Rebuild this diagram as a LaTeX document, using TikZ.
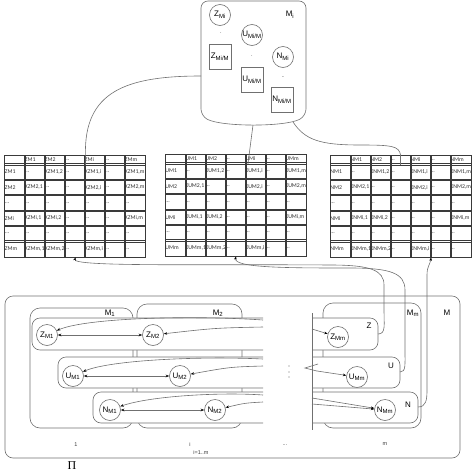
\documentclass[tikz,border=0pt]{standalone}
\usepackage{fontspec}
\setmainfont{Liberation Sans}
\newfontfamily\tabfont{Carlito}
\newfontfamily\pefont{Liberation Serif}
\usetikzlibrary{matrix,arrows.meta,positioning}
\definecolor{my_gray}{HTML}{707070}
\definecolor{my_dark}{HTML}{3A3A3A}
\tikzset{
  etat/.style={circle,draw=my_gray,fill=white,minimum size=21pt,inner sep=0pt,font=\fontsize{8}{9}\selectfont},
  boite/.style={rectangle,draw=my_gray,fill=white,minimum width=22pt,minimum height=25pt,inner sep=0pt,font=\fontsize{8}{9}\selectfont},
  fleche/.style={draw=my_gray,-{Stealth[length=3.5pt,width=2.6pt,color=black]}},
  double_fleche/.style={draw=my_gray,{Stealth[length=3.5pt,width=2.6pt,color=black]}-{Stealth[length=3.5pt,width=2.6pt,color=black]}},
  corde/.style={draw=my_gray},
  etiquette/.style={inner sep=0pt,font=\fontsize{8}{9}\selectfont},
  petit/.style={inner sep=0pt,text=my_dark,font=\fontsize{5.5}{6}\selectfont},
  tableau/.style={matrix of nodes,matrix anchor=north west,ampersand replacement=\&,
    row sep=-1.8pt,column sep=-1.8pt,nodes in empty cells,
    nodes={anchor=center,draw=my_dark,line width=0.6pt,outer sep=0pt,minimum width=21.2pt,minimum height=16.6pt,
      text width=20.4pt,align=left,inner sep=0.4pt,text=black!80,
      font=\tabfont\fontsize{5.8}{6.2}\selectfont},
    row 1/.style={nodes={minimum height=10pt}}}
}
% tableau des coefficients : nom, position, lettre
\newcommand\grille[3]{%
\matrix (#1) at (#2) [tableau] {
  \& #3M1 \& #3M2 \& ... \& #3Mi \& ... \& #3Mm \\
#3M1 \& ... \& K#3M1,2 \& ... \& K#3M1,i \& ... \& K#3M1,m \\
#3M2 \& K#3M2,1 \& ... \& ... \& K#3M2,i \& ... \& K#3M2,m \\
... \& ... \& ... \& ... \& ... \& ... \& ... \\
#3Mi \& K#3Mi,1 \& K#3Mi,2 \& ... \& ... \& ... \& K#3Mi,m \\
... \& ... \& ... \& ... \& ... \& ... \& ... \\
#3Mm \& K#3Mm,1 \& K#3Mm,2 \& ... \& K#3Mm,i \& ... \& ... \\
};}
\begin{document}
\begin{tikzpicture}[x=1pt,y=-1pt,line width=0.6pt]
\useasboundingbox (0,0) rectangle (474,474);

%le conteneur M_i en haut
\draw[my_gray,rounded corners=7] (250,1) -- (306,1) -- (306,116) .. controls (285,127) and (222,127) .. (201,116) -- (201,1) -- cycle;
\node[etat] (z_mi) at (220,15) {Z\textsubscript{Mi}};
\node[etat] (u_mi) at (252,35) {U\textsubscript{Mi/M}};
\node[etat] (n_mi) at (283,57) {N\textsubscript{Mi}};
\node[boite] (z_mim) at (220,57) {Z\textsubscript{Mi/M}};
\node[boite] (u_mim) at (252,80) {U\textsubscript{Mi/M}};
\node[boite] (n_mim) at (282,100) {N\textsubscript{Mi/M}};
\node[etiquette] (m_i) at (290,15) {M\textsubscript{i}};
\node[petit] (p_z) at (221,33) {.};
\node[petit] (p_u) at (252,56) {.};
\node[petit] (p_n) at (283,78) {-};
\coordinate (mi_g) at (201,76);
\coordinate (mi_b) at (253,125);
\coordinate (mi_d) at (293,122);

%les trois tableaux
\grille{tab_z}{0.5,151}{Z}
\grille{tab_u}{161,150}{U}
\grille{tab_n}{326,151}{N}

%liens du conteneur vers les tableaux
\draw[corde] (mi_g) .. controls (125,76) and (84,92) .. ([xshift=1pt]tab_z-1-5.north west) -- ([xshift=1pt]tab_z-1-5.south west);
\draw[corde] (mi_b) -- ([xshift=3pt]tab_u-1-5.south west);
\draw[corde] (mi_d) .. controls (305,140) and (320,145) .. (360,145) .. controls (392,145) and (399,146) .. (tab_n-1-4.north) -- (tab_n-1-4.south);

%le grand cadre M
\draw[my_gray,rounded corners=8] (5,296) rectangle (460,458);
\node[etiquette] (m) at (447,313) {M};

%les conteneurs M_1, M_2, M_m
\draw[my_gray,rounded corners=10] (30,308) rectangle (133,428);
\draw[my_gray,rounded corners=10] (137,304) rectangle (242,428);
\draw[my_gray,rounded corners=10] (323,303) rectangle (421,428);
\node[etiquette] (m_1) at (110,313) {M\textsubscript{1}};
\node[etiquette] (m_2) at (218,313) {M\textsubscript{2}};
\node[etiquette] (m_m) at (413,313) {M\textsubscript{m}};

%les lignes Z, U, N (coupees au milieu)
\foreach \g/\h/\d/\b in {32/318/378/350,58/357/400/388,93/392/418/423}{
  \fill[white,rounded corners=8] (\g,\h) rectangle (\d,\b);
  \draw[my_gray,rounded corners=8] (263,\h) -- (\g,\h) -- (\g,\b) -- (263,\b);
  \draw[my_gray,rounded corners=8] (312,\h) -- (\d,\h) -- (\d,\b) -- (312,\b);
}
\node[etiquette] (l_z) at (369,326) {Z};
\node[etiquette] (l_u) at (391,366) {U};
\node[etiquette] (l_n) at (408,405) {N};
\coordinate (ligne_z) at (378,334);
\coordinate (ligne_u) at (400,372);
\coordinate (ligne_n) at (418,407);

%les etats
\node[etat] (z_m1) at (47,335) {Z\textsubscript{M1}};
\node[etat] (z_m2) at (153,335) {Z\textsubscript{M2}};
\node[etat] (z_mm) at (338,337) {Z\textsubscript{Mm}};
\node[etat] (u_m1) at (73,376) {U\textsubscript{M1}};
\node[etat] (u_m2) at (180,376) {U\textsubscript{M2}};
\node[etat] (u_mm) at (357,377) {U\textsubscript{Mm}};
\node[etat] (n_m1) at (110,410) {N\textsubscript{M1}};
\node[etat] (n_m2) at (215,410) {N\textsubscript{M2}};
\node[etat] (n_mm) at (385,410) {N\textsubscript{Mm}};

%bouts des fleches dans la coupure
\coordinate (gz1) at (263,320);
\coordinate (gz2) at (263,327);
\coordinate (gu1) at (263,359);
\coordinate (gu2) at (263,366);
\coordinate (gn1) at (263,395);
\coordinate (gn2) at (263,402);
\coordinate (dz) at (312,329);
\coordinate (zz) at (317,371);
\coordinate (dn1) at (312,398);
\coordinate (dn2) at (312,404);

\draw[fleche] (gz1) .. controls (190,315) and (85,318) .. (z_m1);
\draw[fleche] (gz2) .. controls (215,328) .. (z_m2);
\draw[double_fleche] (z_m1) -- (z_m2);
\draw[fleche] (gu1) .. controls (200,356) and (110,360) .. (u_m1);
\draw[fleche] (gu2) .. controls (230,367) .. (u_m2);
\draw[double_fleche] (u_m1) -- (u_m2);
\draw[fleche] (gn1) .. controls (220,392) and (150,396) .. (n_m1);
\draw[fleche] (gn2) .. controls (245,403) .. (n_m2);
\draw[double_fleche] (n_m1) -- (n_m2);
\draw[fleche] (dz) -- (z_mm);
\draw[my_gray] (318,364) -- (305,368) -- (zz);%la coupure en zigzag
\draw[fleche] (zz) -- (u_mm);
\draw[fleche] (dn1) -- (n_mm);
\draw[fleche] (dn2) -- (n_mm);

\draw[my_gray] (312,313) -- (312,430);%le trait de coupure
\foreach \k in {366,372,377} \fill[my_gray] (289,\k) circle (0.6);

%liens des lignes vers les tableaux
\draw[fleche] (ligne_z) .. controls (386,334) and (384,325) .. (384,310) -- (384,285) .. controls (384,270) and (370,265) .. (330,265) .. controls (200,264) and (72,267) .. ([xshift=-10pt]tab_z-7-4.south east);
\draw[fleche] (ligne_u) .. controls (406,372) and (405,365) .. (405,350) -- (405,290) .. controls (405,273) and (390,268) .. (350,268) .. controls (290,268) and (233,268) .. ([xshift=-10pt]tab_u-7-4.south east);
\draw[fleche] (ligne_n) .. controls (426,407) and (427,400) .. (427,390) -- (427,275) .. controls (427,266) and (430,265) .. (tab_n-7-5.south east);

%les legendes du bas
\node[petit] (c_1) at (76,445) {1};
\node[petit] (c_i) at (190,445) {i};
\node[petit] (c_im) at (201,453) {i=1..m};
\node[petit] (c_pts) at (285,445) {...};
\node[petit] (c_m) at (385,444) {m};
\node[anchor=north,inner sep=0pt,font=\pefont\fontsize{12}{12}\selectfont] (pe) at (72,461) {П};

\end{tikzpicture}
\end{document}
